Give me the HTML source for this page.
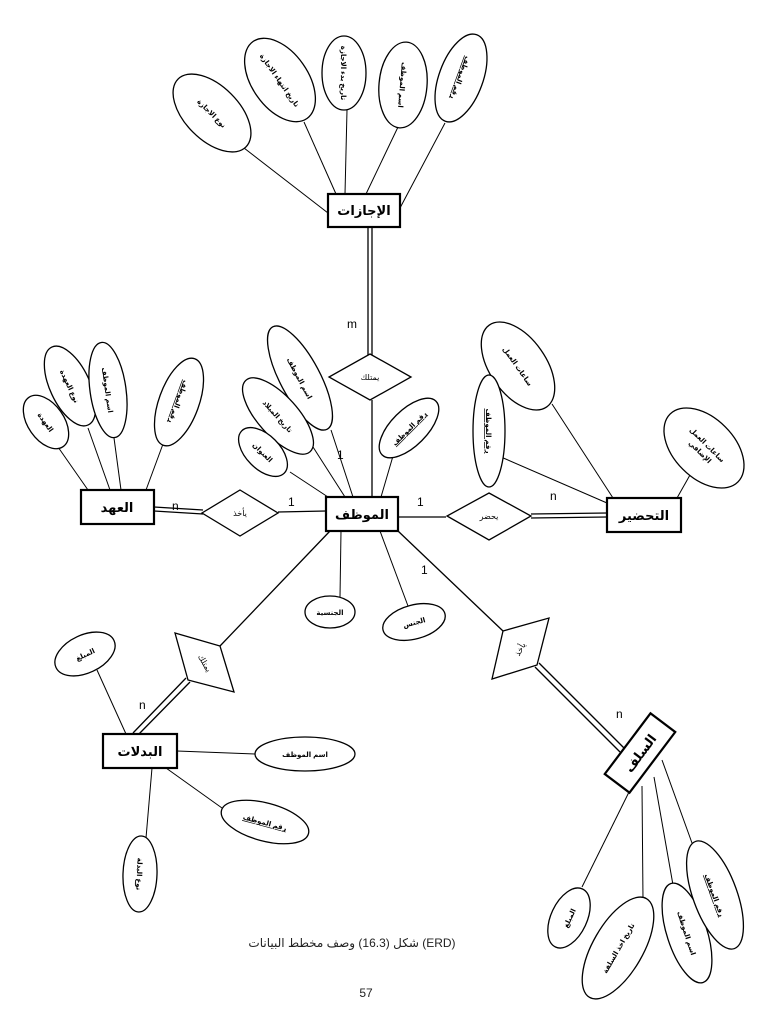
<!DOCTYPE html>
<html><head><meta charset="utf-8"><style>
html,body{margin:0;padding:0;background:#fff;}
svg{display:block;}
text{font-family:"Liberation Sans","DejaVu Sans",sans-serif;}
</style></head><body>
<svg width="768" height="1024" viewBox="0 0 768 1024" xmlns="http://www.w3.org/2000/svg">
<g stroke="#000" fill="none" stroke-width="1">
<!-- attribute lines -->
<line x1="244" y1="148" x2="328" y2="213"/>
<line x1="304" y1="122" x2="336" y2="194"/>
<line x1="347" y1="110" x2="345" y2="194"/>
<line x1="398" y1="127" x2="366" y2="194"/>
<line x1="445" y1="123" x2="400" y2="208"/>
<line x1="331" y1="430" x2="353" y2="497"/>
<line x1="313" y1="447" x2="345" y2="497"/>
<line x1="290" y1="472" x2="328" y2="497"/>
<line x1="393" y1="456" x2="381" y2="497"/>
<line x1="341" y1="531" x2="340" y2="597"/>
<line x1="380" y1="531" x2="408" y2="606"/>
<line x1="58" y1="447" x2="88" y2="490"/>
<line x1="88" y1="428" x2="110" y2="490"/>
<line x1="114" y1="438" x2="121" y2="490"/>
<line x1="163" y1="444" x2="146" y2="490"/>
<line x1="552" y1="404" x2="613" y2="498"/>
<line x1="501" y1="457" x2="607" y2="503"/>
<line x1="690" y1="475" x2="677" y2="498"/>
<line x1="97" y1="670" x2="126" y2="734"/>
<line x1="177" y1="751" x2="255" y2="754"/>
<line x1="166" y1="768" x2="222" y2="808"/>
<line x1="152" y1="768" x2="146" y2="838"/>
<line x1="582" y1="887" x2="630" y2="790"/>
<line x1="643" y1="900" x2="642" y2="786"/>
<line x1="673" y1="885" x2="654" y2="777"/>
<line x1="692" y1="843" x2="662" y2="760"/>
<!-- relationship lines -->
<line x1="368" y1="227" x2="368" y2="356" stroke-width="1.3"/>
<line x1="372" y1="227" x2="372" y2="356" stroke-width="1.3"/>
<line x1="372" y1="400" x2="372" y2="497" stroke-width="1.3"/>
<line x1="154" y1="507" x2="203" y2="510" stroke-width="1.3"/>
<line x1="154" y1="511" x2="203" y2="514" stroke-width="1.3"/>
<line x1="278" y1="512" x2="326" y2="511" stroke-width="1.3"/>
<line x1="398" y1="517" x2="446" y2="517" stroke-width="1.3"/>
<line x1="531" y1="514" x2="607" y2="513" stroke-width="1.3"/>
<line x1="531" y1="518" x2="607" y2="517" stroke-width="1.3"/>
<line x1="330" y1="531" x2="220" y2="646" stroke-width="1.3"/>
<line x1="186" y1="678" x2="133" y2="733" stroke-width="1.3"/>
<line x1="190" y1="682" x2="137" y2="736" stroke-width="1.3"/>
<line x1="398" y1="531" x2="503" y2="631" stroke-width="1.3"/>
<line x1="535" y1="667" x2="620" y2="752" stroke-width="1.3"/>
<line x1="539" y1="663" x2="624" y2="748" stroke-width="1.3"/>
</g>

<!-- entities -->
<g stroke="#000" stroke-width="2.2" fill="#fff">
<rect x="328" y="194" width="72" height="33"/>
<rect x="326" y="497" width="72" height="34"/>
<rect x="81" y="490" width="73" height="34"/>
<rect x="607" y="498" width="74" height="34"/>
<rect x="103" y="734" width="74" height="34"/>
<g transform="translate(640,753) rotate(-53)"><rect x="-38" y="-15.5" width="76" height="31"/></g>
</g>
<g font-size="13" font-weight="bold" text-anchor="middle" fill="#000">
<text x="364" y="215">الإجازات</text>
<text x="362" y="519">الموظف</text>
<text x="117" y="512">العهد</text>
<text x="644" y="520">التحضير</text>
<text x="140" y="756">البدلات</text>
<text transform="translate(640,753) rotate(-53)" y="5">السلف</text>
</g>

<!-- diamonds -->
<g stroke="#000" stroke-width="1.3" fill="#fff">
<polygon points="370,354 411,377 370,400 329,377"/>
<polygon points="240,490 278,513 240,536 202,513"/>
<polygon points="489,493 531,516 489,540 447,516"/>
<polygon points="175,633 220,646 234,692 188,680"/>
<polygon points="503,631 549,618 537,665 492,679"/>
</g>
<g font-size="8" text-anchor="middle" fill="#000">
<text x="370" y="380">يمتلك</text>
<text x="240" y="516">يأخذ</text>
<text x="489" y="519">يحضر</text>
<text transform="translate(205,663) rotate(60)" y="3">يمتلك</text>
<text transform="translate(520,649) rotate(-60)" y="3">يأخذ</text>
</g>

<!-- cardinalities -->
<g font-size="12" fill="#000">
<text x="347" y="328">m</text>
<text x="337" y="459">1</text>
<text x="172" y="510">n</text>
<text x="288" y="506">1</text>
<text x="417" y="506">1</text>
<text x="550" y="500">n</text>
<text x="421" y="574">1</text>
<text x="139" y="709">n</text>
<text x="616" y="718">n</text>
</g>

<!-- attributes -->
<g stroke="#000" stroke-width="1.3" fill="#fff">
<ellipse transform="translate(212,113) rotate(45)" rx="48" ry="27"/>
<ellipse transform="translate(280,80) rotate(55)" rx="47" ry="28"/>
<ellipse transform="translate(344,73) rotate(90)" rx="37" ry="22"/>
<ellipse transform="translate(403,85) rotate(95)" rx="43" ry="24"/>
<ellipse transform="translate(461,78) rotate(110)" rx="46" ry="22"/>
<ellipse transform="translate(300,378) rotate(62)" rx="58" ry="20"/>
<ellipse transform="translate(278,416) rotate(48)" rx="48" ry="20"/>
<ellipse transform="translate(263,452) rotate(45)" rx="30" ry="17"/>
<ellipse transform="translate(409,428) rotate(-45)" rx="38" ry="18"/>
<ellipse transform="translate(330,612)" rx="25" ry="16"/>
<ellipse transform="translate(414,622) rotate(-15)" rx="32" ry="17"/>
<ellipse transform="translate(46,422) rotate(55)" rx="30" ry="18"/>
<ellipse transform="translate(70,386) rotate(65)" rx="43" ry="20"/>
<ellipse transform="translate(108,390) rotate(82)" rx="48" ry="18"/>
<ellipse transform="translate(179,402) rotate(110)" rx="46" ry="20"/>
<ellipse transform="translate(518,366) rotate(55)" rx="50" ry="28"/>
<ellipse transform="translate(489,431) rotate(90)" rx="56" ry="16"/>
<ellipse transform="translate(704,448) rotate(45)" rx="48" ry="30"/>
<ellipse transform="translate(85,654) rotate(-25)" rx="32" ry="19"/>
<ellipse transform="translate(305,754)" rx="50" ry="17"/>
<ellipse transform="translate(265,822) rotate(15)" rx="45" ry="19"/>
<ellipse transform="translate(140,874) rotate(92)" rx="38" ry="17"/>
<ellipse transform="translate(569,918) rotate(115)" rx="32" ry="18"/>
<ellipse transform="translate(618,948) rotate(120)" rx="57" ry="25"/>
<ellipse transform="translate(687,933) rotate(72)" rx="52" ry="20"/>
<ellipse transform="translate(715,895) rotate(70)" rx="57" ry="22"/>
</g>
<g font-size="7" font-weight="bold" text-anchor="middle" fill="#000">
<text transform="translate(212,113) rotate(45)" y="3">نوع الاجازة</text>
<text transform="translate(280,80) rotate(55)" y="3">تاريخ انتهاء الاجازة</text>
<text transform="translate(344,73) rotate(90)" y="3">تاريخ بدء الاجازة</text>
<text transform="translate(403,85) rotate(95)" y="3">اسم الموظف</text>
<text transform="translate(461,78) rotate(110)" y="3" text-decoration="underline">رقم الموظف</text>
<text transform="translate(300,378) rotate(62)" y="3">اسم الموظف</text>
<text transform="translate(278,416) rotate(48)" y="3">تاريخ الميلاد</text>
<text transform="translate(263,452) rotate(45)" y="3">العنوان</text>
<text transform="translate(409,428) rotate(-45)" y="3" text-decoration="underline">رقم الموظف</text>
<text x="330" y="615">الجنسية</text>
<text transform="translate(414,622) rotate(-15)" y="3">الجنس</text>
<text transform="translate(46,422) rotate(55)" y="3">العهدة</text>
<text transform="translate(70,386) rotate(65)" y="3">نوع العهدة</text>
<text transform="translate(108,390) rotate(82)" y="3">اسم الموظف</text>
<text transform="translate(179,402) rotate(110)" y="3" text-decoration="underline">رقم الموظف</text>
<text transform="translate(518,366) rotate(55)" y="3">ساعات العمل</text>
<text transform="translate(489,431) rotate(90)" y="3" text-decoration="underline">رقم الموظف</text>
<text transform="translate(704,448) rotate(45)" y="-2">ساعات العمل</text>
<text transform="translate(704,448) rotate(45)" y="8">الإضافي</text>
<text transform="translate(85,654) rotate(-25)" y="3">المبلغ</text>
<text x="305" y="757">اسم الموظف</text>
<text transform="translate(265,822) rotate(15)" y="3" text-decoration="underline">رقم الموظف</text>
<text transform="translate(140,874) rotate(92)" y="3">نوع البدلة</text>
<text transform="translate(569,918) rotate(-65)" y="3">المبلغ</text>
<text transform="translate(618,948) rotate(-60)" y="3">تاريخ اخذ السلفة</text>
<text transform="translate(687,933) rotate(72)" y="3">اسم الموظف</text>
<text transform="translate(715,895) rotate(70)" y="3" text-decoration="underline">رقم الموظف</text>
</g>

<text x="352" y="947" font-size="12" text-anchor="middle" fill="#222" style="font-family:'Liberation Sans','DejaVu Sans',sans-serif">شكل (16.3) وصف مخطط البيانات (ERD)</text>
<text x="366" y="997" font-size="12" text-anchor="middle" fill="#222">57</text>
</svg>
</body></html>
